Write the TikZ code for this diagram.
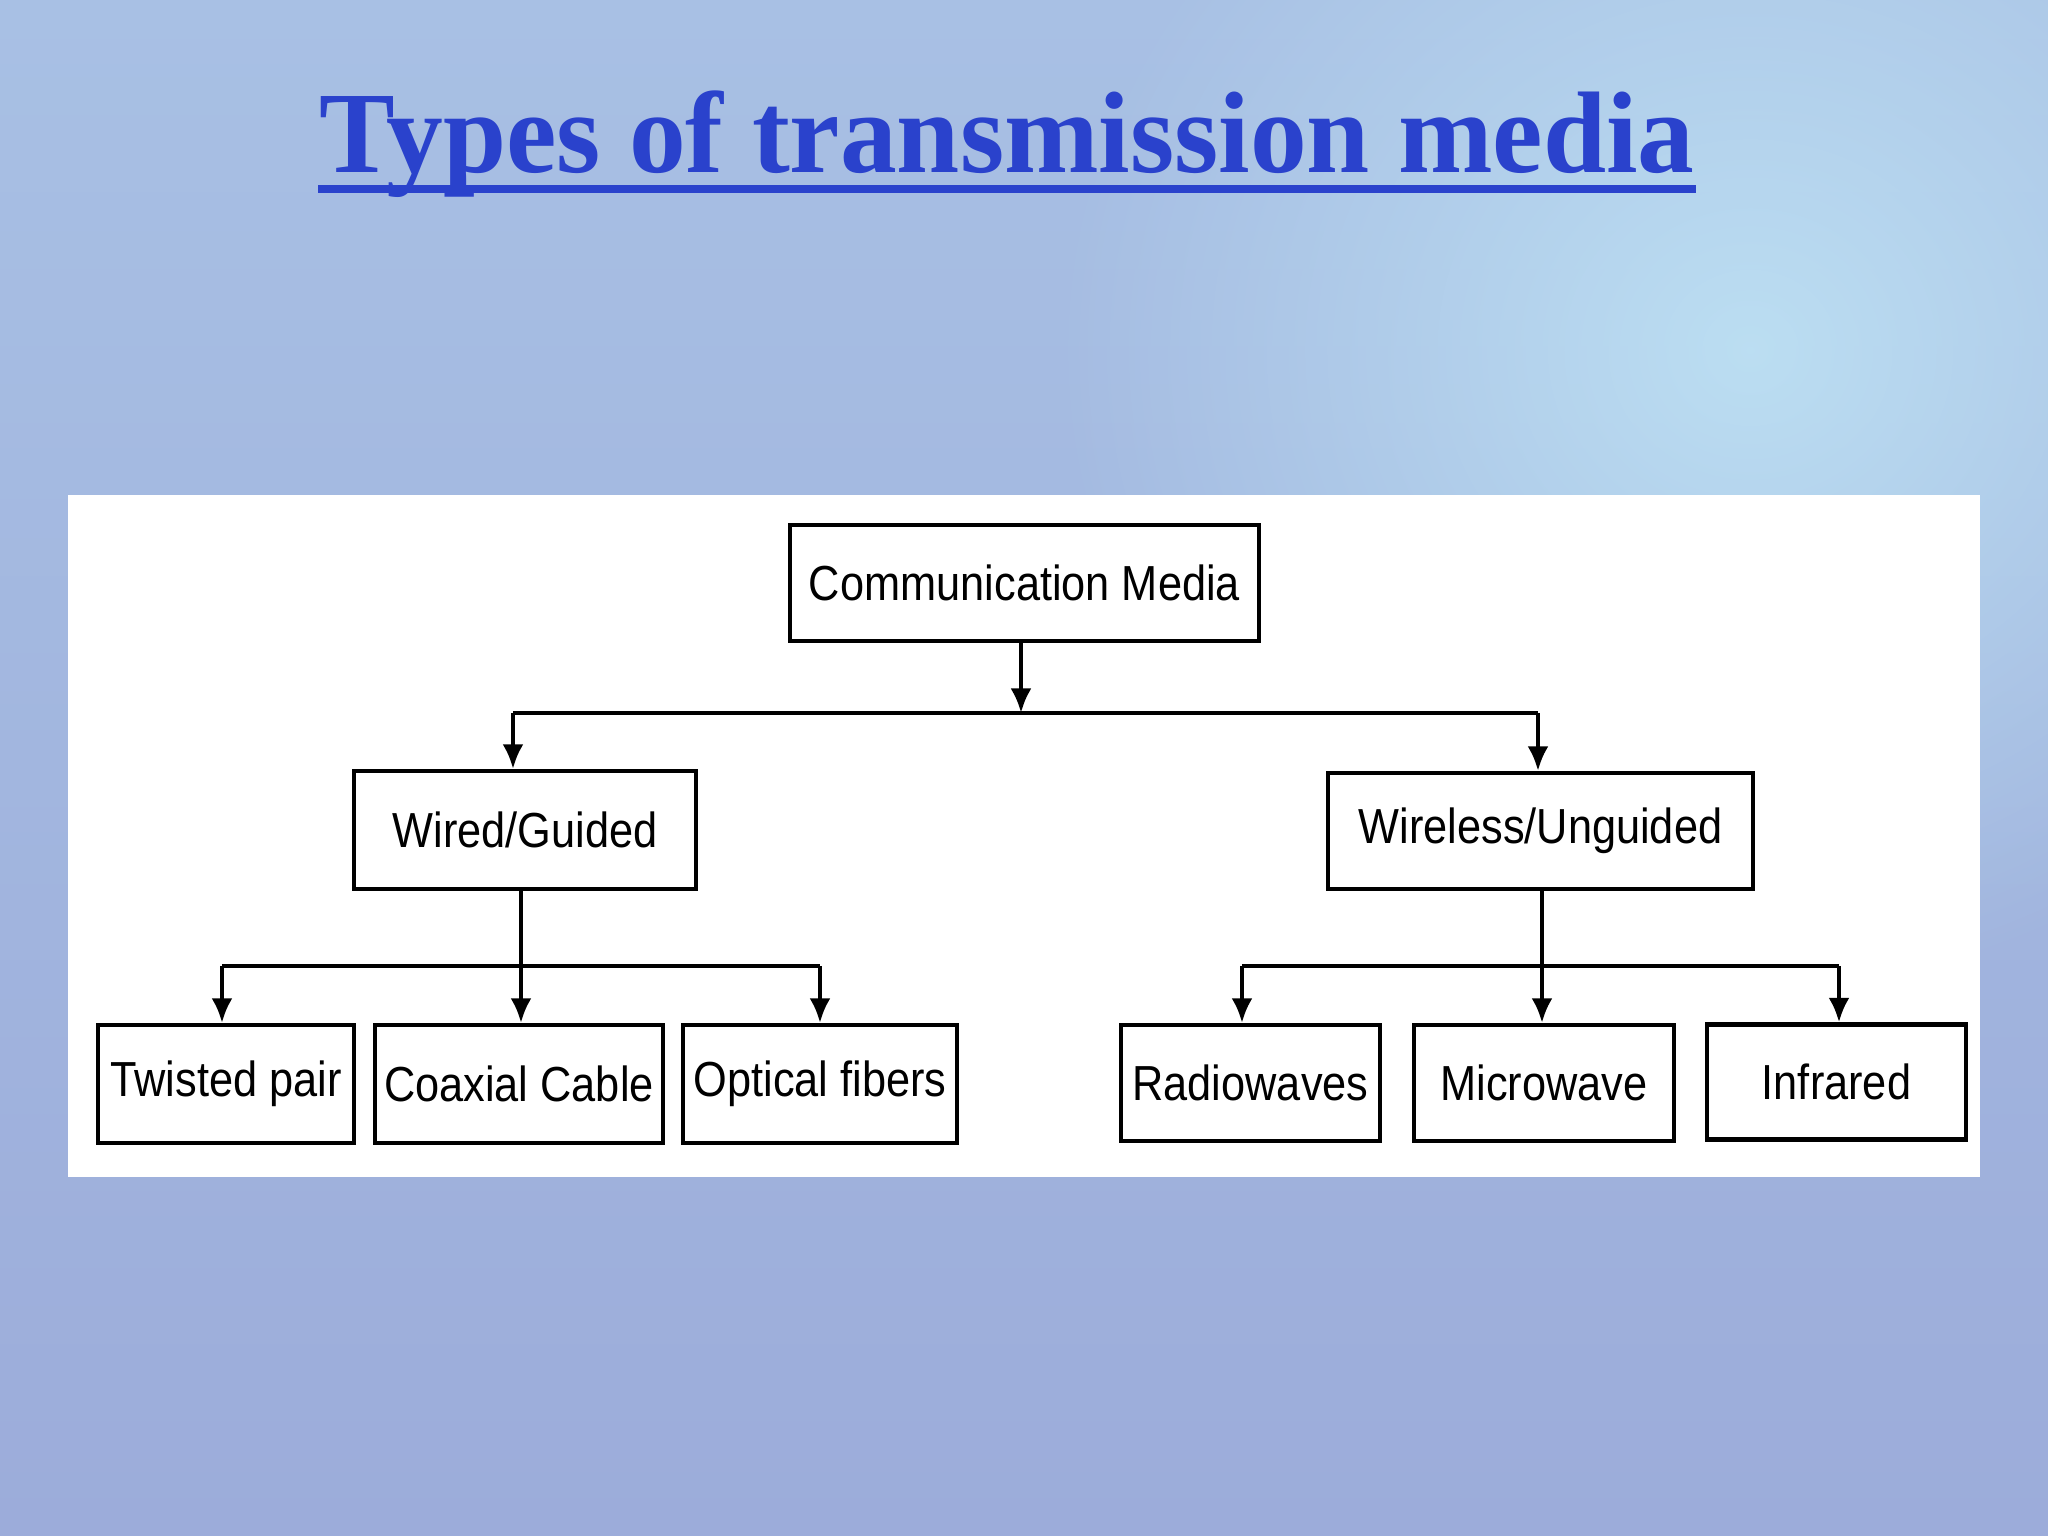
\documentclass[tikz,border=0pt]{standalone}
\usepackage{fontspec}
\setmainfont{Liberation Serif}
\newfontfamily\diagfont{Liberation Sans}
\usetikzlibrary{arrows.meta,fadings}
\tikzfading[name=softglow, inner color=transparent!0, outer color=transparent!100]
\definecolor{titleblue}{RGB}{42,66,204}
\definecolor{bgtop}{RGB}{168,192,228}
\definecolor{bgbot}{RGB}{156,172,218}
\definecolor{bglight}{RGB}{190,226,244}
\tikzset{
  box/.style={draw=black, line width=1.2pt, fill=white, inner sep=0pt,
    font=\diagfont\fontsize{14pt}{16pt}\selectfont},
  conn/.style={line width=1.2pt, draw=black},
  arr/.style={conn, -{Latex[length=7pt,width=6pt]}},
}
\newcommand{\nar}[1]{\scalebox{0.88}[1]{#1}}
\begin{document}
\begin{tikzpicture}[x=0.01cm,y=-0.01cm]
\useasboundingbox (0,0) rectangle (2048,1536);
% background
\shade[top color=bgtop, bottom color=bgbot] (0,0) rectangle (2048,1536);
\fill[bglight, path fading=softglow, opacity=0.9] (1750,350) ellipse [x radius=700, y radius=650];
% title
\node[anchor=base, inner sep=0pt, text=titleblue, font=\bfseries\fontsize{33pt}{36pt}\selectfont] (title) at (1007,172) {\scalebox{0.978}[1]{Types of transmission media}};
\draw[titleblue, line width=2.4pt] (title.west |- 0,189) -- (title.east |- 0,189);
% panel
\fill[white] (68,495) rectangle (1980,1177);
% nodes
\node[box, minimum width=4.69cm, minimum height=1.16cm] (comm) at (1024.5,583) {\nar{Communication Media}};
\node[box, minimum width=3.42cm, minimum height=1.18cm] (wired) at (525,830) {\nar{Wired/Guided}};
\node[box, minimum width=4.25cm, minimum height=1.16cm] (wireless) at (1540.5,831) {\nar{Wireless/Unguided}};
\node[box, minimum width=2.56cm, minimum height=1.18cm] (twisted) at (226,1084) {\nar{Twisted pair}};
\node[box, minimum width=2.88cm, minimum height=1.18cm] (coax) at (519,1084) {\nar{Coaxial Cable}};
\node[box, minimum width=2.74cm, minimum height=1.18cm] (optical) at (820,1084) {\nar{Optical fibers}};
\node[box, minimum width=2.59cm, minimum height=1.16cm] (radio) at (1250.5,1083) {\nar{Radiowaves}};
\node[box, minimum width=2.60cm, minimum height=1.16cm] (micro) at (1544,1083) {\nar{Microwave}};
\node[box, minimum width=2.59cm, minimum height=1.15cm] (infra) at (1836.5,1082) {\nar{Infrared}};
% junctions
\coordinate (j0) at (1021,713);
\coordinate (j1) at (521,966);
\coordinate (j2) at (1542,966);
% connectors
\draw[arr] (comm.south -| j0) -- (j0);
\draw[conn] (j0) -- (j0 -| 513,0);
\draw[conn] (j0) -- (j0 -| 1538,0);
\draw[arr] (513,713) -- (wired.north -| 513,0);
\draw[arr] (1538,713) -- (wireless.north -| 1538,0);
\draw[arr] (wired.south -| j1) -- (coax.north -| j1);
\draw[conn] (j1) -- (j1 -| 222,0);
\draw[conn] (j1) -- (j1 -| 820,0);
\draw[arr] (222,966) -- (twisted.north -| 222,0);
\draw[arr] (820,966) -- (optical.north -| 820,0);
\draw[arr] (wireless.south -| j2) -- (micro.north -| j2);
\draw[conn] (j2) -- (j2 -| 1242,0);
\draw[conn] (j2) -- (j2 -| 1839,0);
\draw[arr] (1242,966) -- (radio.north -| 1242,0);
\draw[arr] (1839,966) -- (infra.north -| 1839,0);
\end{tikzpicture}
\end{document}
